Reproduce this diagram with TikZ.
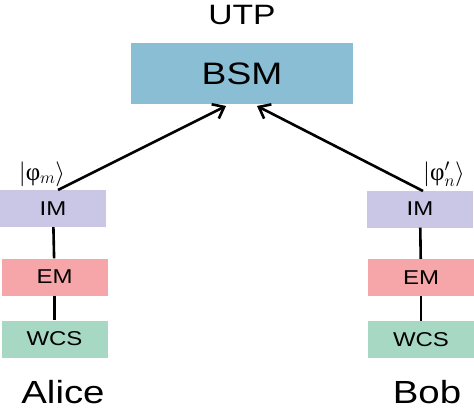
\documentclass[tikz,border=0pt]{standalone}
\usepackage{fontspec}
\setmainfont[FakeStretch=1.2]{Liberation Sans}
\newfontfamily\symf{Liberation Serif}
\usetikzlibrary{arrows.meta}
\definecolor{bsmc}{RGB}{137,190,212}
\definecolor{imc}{RGB}{201,198,230}
\definecolor{emc}{RGB}{246,166,168}
\definecolor{wcsc}{RGB}{166,216,196}
\tikzset{
  box/.style={inner sep=0pt, minimum width=106pt, minimum height=37pt, font=\fontsize{20}{20}\selectfont},
  link/.style={line width=2.6pt, black},
  arr/.style={line width=2.6pt, black, -{Straight Barb[length=10pt,width=16pt,line width=2.6pt]}},
  lbl/.style={inner sep=0pt, font=\fontsize{32}{32}\selectfont},
  ket/.style={inner sep=0pt, font=\fontsize{25}{25}\selectfont},
}
\begin{document}
\begin{tikzpicture}[x=1pt,y=-1pt]
\useasboundingbox (0,0) rectangle (474,409);
\node[lbl, font=\fontsize{28}{28}\selectfont, anchor=base] (utp) at (242,25) {UTP};
\node[box, fill=bsmc, minimum width=222pt, minimum height=61pt, font=\fontsize{31}{31}\selectfont] (bsm) at (242,73.5) {BSM};
\node[box, fill=imc] (imL) at (53,208.5) {IM};
\node[box, fill=emc] (emL) at (54.5,277) {EM};
\node[box, fill=wcsc] (wcsL) at (54.5,339) {WCS};
\node[box, fill=imc] (imR) at (420,209) {IM};
\node[box, fill=emc] (emR) at (421,277.5) {EM};
\node[box, fill=wcsc] (wcsR) at (421,339.5) {WCS};
\node[lbl, anchor=base] (alice) at (63,403.5) {Alice};
\node[lbl, anchor=base] (bob) at (427,403.5) {Bob};
\node[ket] (ketL) at (42,174) {$\Big|${\symf φ}$_{m}\Big\rangle$};
\node[ket] (ketR) at (444,174) {$\Big|${\symf φ}$'_{n}\Big\rangle$};
\coordinate (sL) at (58,190);
\coordinate (sR) at (423,191);
\coordinate (tL) at (226,106);
\coordinate (tR) at (257,106);
\draw[arr] (sL) -- (tL);
\draw[arr] (sR) -- (tR);
\draw[link] (imL) -- (emL);
\draw[link] (emL) -- (wcsL);
\draw[link] (imR) -- (emR);
\draw[link] (emR) -- (wcsR);
\end{tikzpicture}
\end{document}
